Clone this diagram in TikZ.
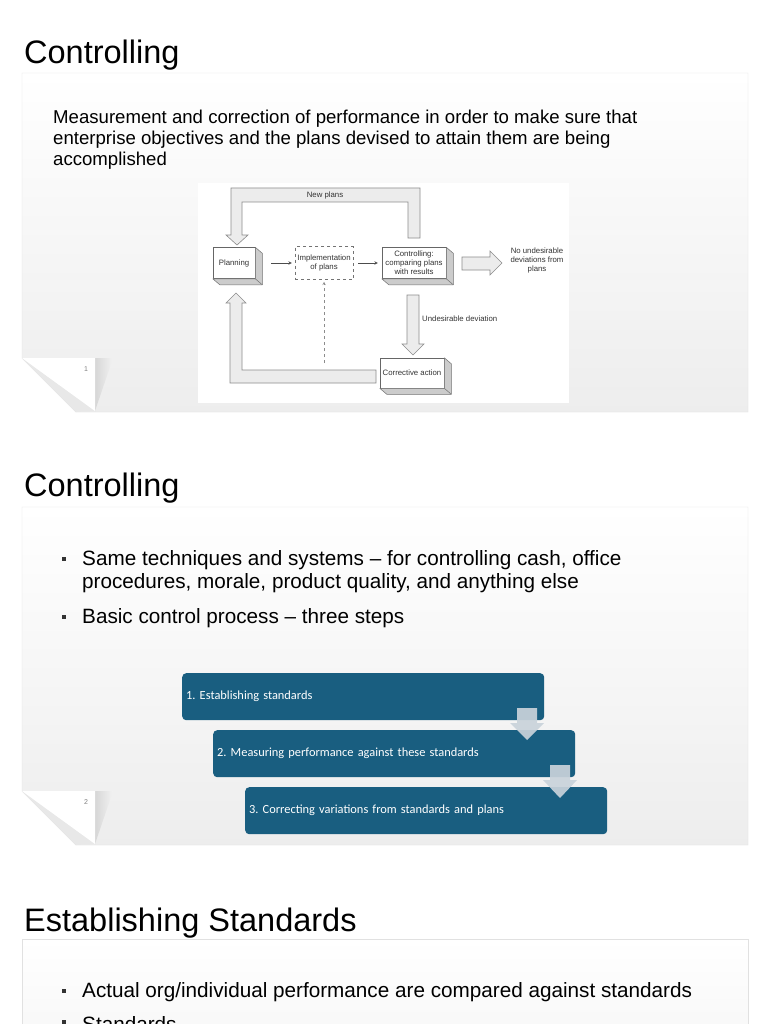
\documentclass[tikz,border=0pt]{standalone}
\usepackage{fontspec}
\setmainfont{Liberation Sans}
\newfontfamily\stepfont{Carlito}
\usetikzlibrary{positioning,calc}
\frenchspacing

\definecolor{stepblue}{RGB}{25,94,128}
\definecolor{steparrow}{RGB}{201,211,219}
\definecolor{cardline}{RGB}{225,225,225}
\definecolor{hollowfill}{RGB}{236,236,236}
\definecolor{hollowline}{RGB}{140,140,140}

\tikzset{
  title/.style={anchor=base west,inner sep=0pt,font=\fontsize{32.5}{38}\selectfont},
  bodytext/.style={anchor=base west,inner sep=0pt,font=\fontsize{18.6}{22}\selectfont},
  bullettext/.style={anchor=base west,inner sep=0pt,font=\fontsize{20.7}{24}\selectfont},
  pagenum/.style={inner sep=0pt,font=\fontsize{7}{8}\selectfont,text=black!50},
  tiny/.style={inner sep=0pt,align=center,font=\fontsize{7.8}{9}\selectfont,text=black!80},
  solidbox/.style={draw=black!60,fill=white,line width=0.5pt,tiny},
  dashbox/.style={draw=black!55,dashed,line width=0.5pt,tiny},
  hollow/.style={draw=hollowline,fill=hollowfill,line width=0.6pt},
  thinarrow/.style={-stealth,black!70,line width=0.5pt},
  stepbox/.style={fill=stepblue,rounded corners=4pt,anchor=north west,inner xsep=4pt,
    text width=354pt,minimum height=47pt,align=left,text=white,
    font=\stepfont\fontsize{12.4}{14}\selectfont},
  steparr/.style={fill=steparrow,opacity=0.92},
  bulletsq/.style={fill=black!80}
}

% slide card with a folded lower left corner: top, bottom, page number
\newcommand\slidecard[3]{%
  \shade[top color=white,bottom color=black!7,draw=cardline]
    (22,#1) -- (748,#1) -- (748,#2) -- (76,#2) -- (22,#2-54) -- cycle;
  \fill[black!9] (22,#2-54) -- (95,#2-1) -- (76,#2) -- cycle;
  \shade[left color=black!16,right color=black!5] (95,#2-54) -- (113,#2-54) -- (95,#2-1) -- cycle;
  \fill[white] (22,#2-54) -- (95,#2-54) -- (95,#2-1) -- cycle;
  \node[pagenum] (page#3) at (86,#2-43) {#3};
}
% bevel on the right and lower side of a box
\newcommand\bevel[1]{%
  \draw[black!55,fill=black!20,line width=0.5pt,line join=round]
    (#1.north east) -- ++(7,6) -- ($(#1.south east)+(7,6)$)
    -- ($(#1.south west)+(7,6)$) -- (#1.south west) -- (#1.south east) -- cycle;
  \draw[black!55,line width=0.5pt] (#1.south east) -- ++(7,6);
}

\begin{document}
\begin{tikzpicture}[x=1pt,y=-1pt]
\useasboundingbox (0,0) rectangle (768,1024);
\fill[white] (0,0) rectangle (768,1024);

% first slide
\node[title] (title1) at (24,64) {Controlling};
\slidecard{73}{412}{1}
\node[bodytext] (intro1) at (53,124) {Measurement and correction of performance in order to make sure that};
\node[bodytext] (intro2) at (53,145) {enterprise objectives and the plans devised to attain them are being};
\node[bodytext] (intro3) at (53,166) {accomplished};

% the control loop picture
\fill[white] (198,183) rectangle (569,403);
\draw[hollow] (408,238) -- (408,202) -- (242,202) -- (242,235) -- (248,235) -- (237,245)
  -- (226,235) -- (231,235) -- (231,188) -- (420,188) -- (420,238) -- cycle;
\draw[hollow] (462,257) -- (490,257) -- (490,251) -- (502,263) -- (490,275) -- (490,270)
  -- (462,270) -- cycle;
\draw[hollow] (407,295) -- (419,295) -- (419,344) -- (424,344) -- (413,355) -- (402,344)
  -- (407,344) -- cycle;
\draw[hollow] (376,370) -- (242,370) -- (242,303) -- (246,303) -- (236,293) -- (226,303)
  -- (230,303) -- (230,383) -- (376,383) -- cycle;

\node[solidbox,minimum width=42pt,minimum height=31pt] (plan) at (234,263) {Planning};
\bevel{plan}
\node[dashbox,minimum width=58pt,minimum height=33pt] (impl) at (324,263) {Implementation\\of plans};
\node[solidbox,minimum width=64pt,minimum height=31pt] (ctrl) at (414,263) {Controlling:\\comparing plans\\with results};
\bevel{ctrl}
\node[solidbox,minimum width=64pt,minimum height=30pt] (corr) at (412,373) {Corrective action};
\bevel{corr}

\node[tiny] (newplans) at (325,195) {New plans};
\node[tiny] (nodev) at (537,260) {No undesirable\\deviations from\\plans};
\node[tiny,anchor=west] (undev) at (422,319) {Undesirable deviation};

\draw[thinarrow,shorten <=16pt,shorten >=3pt] (plan) -- (impl);
\draw[thinarrow,shorten <=5pt,shorten >=4pt] (impl) -- (ctrl);
\coordinate (dashfoot) at (324,363);
\draw[thinarrow,black!45,dashed,shorten >=2pt] (dashfoot) -- (impl.south);

% second slide
\node[title] (title2) at (24,496) {Controlling};
\slidecard{507}{845}{2}
\fill[bulletsq] (62,557) rectangle (66,561);
\node[bullettext] (same1) at (82,565) {Same techniques and systems – for controlling cash, office};
\node[bullettext] (same2) at (82,588) {procedures, morale, product quality, and anything else};
\fill[bulletsq] (62,615) rectangle (66,619);
\node[bullettext] (basic) at (82,623) {Basic control process – three steps};

\node[stepbox] (step1) at (182,673) {1. Establishing standards};
\node[stepbox] (step2) at (213,730) {2. Measuring performance against these standards};
\node[stepbox] (step3) at (245,787) {3. Correcting variations from standards and plans};
\fill[steparr] (517,708) -- (537,708) -- (537,723) -- (544,723) -- (527,740) -- (510,723)
  -- (517,723) -- cycle;
\fill[steparr] (550,765) -- (570,765) -- (570,780) -- (577,780) -- (560,798) -- (543,780)
  -- (550,780) -- cycle;

% third slide, cut off by the page
\node[title] (title3) at (24,931) {Establishing Standards};
\shade[top color=white,bottom color=black!3,draw=cardline] (22,939) rectangle (748,1040);
\fill[bulletsq] (62,989) rectangle (66,993);
\node[bullettext] (actual) at (82,997) {Actual org/individual performance are compared against standards};
\fill[bulletsq] (62,1020) rectangle (66,1024);
\node[bullettext] (standards) at (82,1031) {Standards};
\end{tikzpicture}
\end{document}
